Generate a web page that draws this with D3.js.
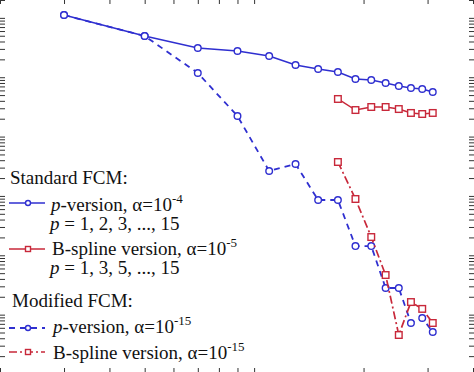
<!DOCTYPE html>
<html>
<head>
<meta charset="utf-8">
<script src="https://d3js.org/d3.v7.min.js"></script>
<style>
  body { margin: 0; background: #fff; }
  svg { display: block; }
  .tick line { stroke: #333; }
</style>
</head>
<body>
<div id="chart"></div>
<script>
// x: number of DOFs (log), y: error (log)
const pX = [3, 5, 7, 9, 11, 13, 15, 17, 19, 21, 23, 25, 27, 29, 31];
const bX = [17, 19, 21, 23, 25, 27, 29, 31];

const stdP = [1.118, 0.495, 0.3107, 0.2765, 0.2278, 0.1607, 0.1376, 0.1225,
              0.0933, 0.0898, 0.0799, 0.0711, 0.0658, 0.0633, 0.0564];
const stdB = [0.0430, 0.0280, 0.0315, 0.0315, 0.0291, 0.0250, 0.0240, 0.0250];
const modP = [1.118, 0.495, 0.1178, 0.0222, 0.00263, 0.00345, 8.54e-4, 8.54e-4,
              1.43e-4, 1.43e-4, 2.81e-5, 2.81e-5, 7.23e-6, 8.78e-6, 5.10e-6];
const modB = [3.73e-3, 8.88e-4, 2.03e-4, 4.65e-5, 4.54e-6, 1.63e-5, 1.25e-5, 7.23e-6];

const blue = "#2f2fd0", red = "#c8283a";

const width = 474, height = 372;
const svg = d3.select("#chart").append("svg")
  .attr("width", width).attr("height", height)
  .style("font-family", "'Liberation Serif', 'Times New Roman', serif");

const x = d3.scaleLog().domain([2, 40]).range([0, 473]);
const y = d3.scaleLog().domain([1e-6, 2]).range([374, 0]);

// ticks only, axis lines fall outside the crop
function ticksOnly(g) {
  g.select(".domain").remove();
  g.selectAll("text").remove();
}
svg.append("g").call(d3.axisBottom(x).tickValues(x.ticks()).tickSize(4)).call(ticksOnly);
svg.append("g").attr("transform", `translate(0,${height})`)
  .call(d3.axisTop(x).tickValues(x.ticks()).tickSize(4)).call(ticksOnly);
svg.append("g").call(d3.axisRight(y).tickValues(y.ticks()).tickSize(5)).call(ticksOnly);
svg.append("g").attr("transform", `translate(${width},0)`)
  .call(d3.axisLeft(y).tickValues(y.ticks()).tickSize(5)).call(ticksOnly);

const series = [
  {xs: pX, ys: stdP, color: blue, dash: null, marker: "circle", w: 1.5},
  {xs: bX, ys: stdB, color: red, dash: null, marker: "square", w: 1.5},
  {xs: pX, ys: modP, color: blue, dash: "6,5", marker: "circle", w: 1.8},
  {xs: bX, ys: modB, color: red, dash: "8,3,2,3", marker: "square", w: 1.7}
];

const line = d3.line().x(d => x(d[0])).y(d => y(d[1]));

function drawMarker(g, cx, cy, kind, color, s) {
  if (kind === "circle") {
    g.append("circle").attr("cx", cx).attr("cy", cy).attr("r", s)
      .attr("fill", "#fff").attr("stroke", color).attr("stroke-width", 1.4);
  } else {
    g.append("rect").attr("x", cx - s).attr("y", cy - s)
      .attr("width", 2 * s).attr("height", 2 * s)
      .attr("fill", "#fff").attr("stroke", color).attr("stroke-width", 1.4);
  }
}

series.forEach(s => {
  const pts = s.xs.map((v, i) => [v, s.ys[i]]);
  svg.append("path").datum(pts)
    .attr("fill", "none").attr("stroke", s.color).attr("stroke-width", s.w)
    .attr("stroke-dasharray", s.dash)
    .attr("d", line);
  const g = svg.append("g");
  pts.forEach(p => drawMarker(g, x(p[0]), y(p[1]), s.marker, s.color, 3.3));
});

// legend
const legendRows = [
  {x: 10, y: 184, parts: [{t: "Standard FCM:"}]},
  {x: 51, y: 211, parts: [{t: "p", i: true}, {t: "-version, α=10"}, {t: "-4", sup: true}], s: 0},
  {x: 50, y: 230, parts: [{t: "p", i: true}, {t: " = 1, 2, 3, ..., 15"}]},
  {x: 52, y: 255, parts: [{t: "B-spline version, α=10"}, {t: "-5", sup: true}], s: 1},
  {x: 50, y: 274, parts: [{t: "p", i: true}, {t: " = 1, 3, 5, ..., 15"}]},
  {x: 12, y: 307, parts: [{t: "Modified FCM:"}]},
  {x: 53, y: 333, parts: [{t: "p", i: true}, {t: "-version, α=10"}, {t: "-15", sup: true}], s: 2},
  {x: 53, y: 359, parts: [{t: "B-spline version, α=10"}, {t: "-15", sup: true}], s: 3}
];
const sampleY = {0: 203, 1: 249, 2: 328, 3: 352};

const lg = svg.append("g");
legendRows.forEach(r => {
  const t = lg.append("text").attr("x", r.x).attr("y", r.y)
    .attr("font-size", 19).attr("fill", "#111");
  r.parts.forEach(p => {
    const ts = t.append("tspan").text(p.t);
    if (p.i) ts.attr("font-style", "italic");
    if (p.sup) ts.attr("font-size", 13).attr("dy", -8);
  });
  if (r.s !== undefined) {
    const s = series[r.s];
    const sy = sampleY[r.s];
    lg.append("line").attr("x1", 9).attr("x2", 45).attr("y1", sy).attr("y2", sy)
      .attr("stroke", s.color).attr("stroke-width", s.w)
      .attr("stroke-dasharray", s.dash);
    drawMarker(lg, 28, sy, s.marker, s.color, 2.5);
  }
});
</script>
</body>
</html>
